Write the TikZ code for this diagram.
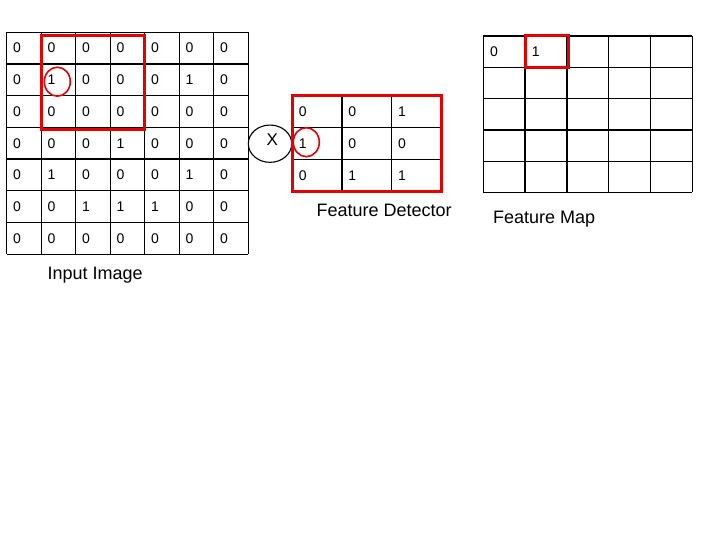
\documentclass[tikz,border=0pt]{standalone}
\usepackage{fontspec}
\setmainfont{Liberation Sans}
\usetikzlibrary{shapes.geometric}
\definecolor{boxred}{RGB}{230,0,0}
\tikzset{
  gridline/.style={draw=black,line width=1.3pt},
  redbox/.style={draw=boxred,line width=3pt},
  redring/.style={draw=boxred,line width=1.6pt,ellipse,inner sep=0pt,minimum width=26pt,minimum height=29pt},
  digit/.style={anchor=west,inner sep=0pt,font=\fontsize{14}{14}\selectfont},
  caption/.style={anchor=base west,inner sep=0pt,font=\fontsize{18}{18}\selectfont},
}
\begin{document}
\begin{tikzpicture}[x=1pt,y=-1pt]
\useasboundingbox (0,0) rectangle (720,540);
% ---------- Input image 7x7 ----------
\def\ix{6.7}\def\iy{32.3}\def\iw{34.5}\def\ih{31.7}
\foreach \i in {0,...,7}{
  \draw[gridline] ({\ix+\i*\iw},\iy) -- ({\ix+\i*\iw},{\iy+7*\ih});
  \draw[gridline] (\ix,{\iy+\i*\ih}) -- ({\ix+7*\iw},{\iy+\i*\ih});
}
\foreach \row [count=\r from 0] in {
  {0,0,0,0,0,0,0},
  {0,1,0,0,0,1,0},
  {0,0,0,0,0,0,0},
  {0,0,0,1,0,0,0},
  {0,1,0,0,0,1,0},
  {0,0,1,1,1,0,0},
  {0,0,0,0,0,0,0}}{
  \foreach \v [count=\c from 0] in \row {
    \node[digit] (in-\r-\c) at ({\ix+\c*\iw+6.3},{\iy+(\r+0.5)*\ih}) {\v};
  }
}
\draw[redbox] (41.3,35.7) rectangle (144.7,129.5);
\node[redring] (ring1) at (57.3,81.7) {};
\node[caption] (inlabel) at (47.5,279.3) {Input Image};
% ---------- multiply sign ----------
\node[draw=black,line width=1.1pt,ellipse,minimum width=43.4pt,minimum height=37.3pt,inner sep=0pt] (mult) at (270,143.7) {};
\node[inner sep=0pt,font=\fontsize{17}{17}\selectfont] (xlab) at (272.2,139.2) {X};
% ---------- Feature detector 3x3 ----------
\def\dx{292.3}\def\dy{96}\def\dw{49.6}\def\dh{31.7}
\foreach \i in {1,2}{
  \draw[gridline] ({\dx+\i*\dw},\dy) -- ({\dx+\i*\dw},{\dy+3*\dh});
  \draw[gridline] (\dx,{\dy+\i*\dh}) -- ({\dx+3*\dw},{\dy+\i*\dh});
}
\draw[redbox] (\dx,\dy) rectangle ({\dx+3*\dw},{\dy+3*\dh});
\foreach \row [count=\r from 0] in {{0,0,1},{1,0,0},{0,1,1}}{
  \foreach \v [count=\c from 0] in \row {
    \node[digit] (fd-\r-\c) at ({\dx+\c*\dw+6.3},{\dy+(\r+0.5)*\dh}) {\v};
  }
}
\node[redring] (ring2) at (306.3,142.2) {};
\node[caption] (fdlabel) at (316.5,216.3) {Feature Detector};
% ---------- Feature map 5x5 ----------
\def\mx{483.3}\def\my{36}\def\mw{41.8}\def\mh{31.3}
\foreach \i in {0,...,5}{
  \draw[gridline] ({\mx+\i*\mw},\my) -- ({\mx+\i*\mw},{\my+5*\mh});
  \draw[gridline] (\mx,{\my+\i*\mh}) -- ({\mx+5*\mw},{\my+\i*\mh});
}
\node[digit] (fm-0-0) at ({\mx+6.5},{\my+0.5*\mh}) {0};
\node[digit] (fm-0-1) at ({\mx+\mw+6.5},{\my+0.5*\mh}) {1};
\draw[redbox] (\mx+\mw,\my) rectangle ({\mx+2*\mw+1.5},{\my+\mh});
\node[caption] (fmlabel) at (493,224) {Feature Map};
\end{tikzpicture}
\end{document}
